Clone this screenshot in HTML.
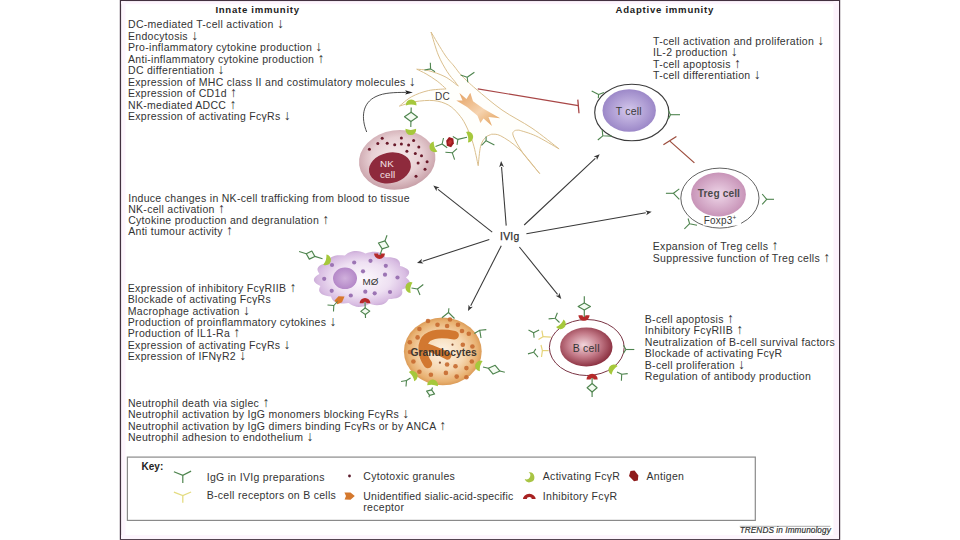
<!DOCTYPE html><html><head><meta charset="utf-8"><style>html,body{margin:0;padding:0;background:#fff;width:960px;height:540px;overflow:hidden}svg{display:block;font-family:"Liberation Sans",sans-serif}</style></head><body>
<svg width="960" height="540" viewBox="0 0 960 540">
<defs><radialGradient id="gT" cx="50%" cy="50%" r="50%"><stop offset="0" stop-color="#d4c8ec"/><stop offset="1" stop-color="#9c88c8"/></radialGradient><radialGradient id="gTr" cx="50%" cy="50%" r="50%"><stop offset="0" stop-color="#eed6e8"/><stop offset="1" stop-color="#c894b8"/></radialGradient><radialGradient id="gNK" cx="50%" cy="45%" r="55%"><stop offset="0" stop-color="#f6ecec"/><stop offset="0.6" stop-color="#e8d0d4"/><stop offset="1" stop-color="#c8a0a8"/></radialGradient><radialGradient id="gB" cx="45%" cy="45%" r="55%"><stop offset="0" stop-color="#f2d6dc"/><stop offset="0.55" stop-color="#c47c8a"/><stop offset="1" stop-color="#8e3444"/></radialGradient><radialGradient id="gG" cx="50%" cy="50%" r="50%"><stop offset="0" stop-color="#fdf3e6"/><stop offset="0.55" stop-color="#f6d8b2"/><stop offset="0.9" stop-color="#e8b070"/><stop offset="1" stop-color="#dc9c58"/></radialGradient><radialGradient id="gM" cx="50%" cy="50%" r="50%"><stop offset="0" stop-color="#fdfafd"/><stop offset="0.6" stop-color="#eee0f2"/><stop offset="0.92" stop-color="#d8bce2"/><stop offset="1" stop-color="#ccaed8"/></radialGradient><radialGradient id="gMn" cx="50%" cy="50%" r="50%"><stop offset="0" stop-color="#d0b0dc"/><stop offset="1" stop-color="#b488c8"/></radialGradient><linearGradient id="gDCn" x1="0" y1="0" x2="1" y2="1"><stop offset="0" stop-color="#e4a060"/><stop offset="0.55" stop-color="#f6d4b0"/><stop offset="1" stop-color="#e09a50"/></linearGradient><filter id="blur06" x="-20%" y="-20%" width="140%" height="140%"><feGaussianBlur stdDeviation="0.7"/></filter></defs>
<rect x="120.5" y="0.6" width="719" height="538.6" fill="#fff" stroke="#42303f" stroke-width="1.4"/>
<rect x="833.5" y="1" width="5.5" height="538" fill="#fcf2fc"/>
<rect x="121.5" y="1" width="4" height="538" fill="#fdf5fd"/>
<rect x="121" y="1.2" width="718" height="3" fill="#fdf4fd"/>
<rect x="121" y="535" width="718" height="4" fill="#fdf5fd"/>
<path d="M431.00,32.00 C433.33,35.83 441.17,49.33 445.00,55.00 C448.83,60.67 451.17,62.50 454.00,66.00 C456.83,69.50 458.33,72.17 462.00,76.00 C465.67,79.83 469.33,83.33 476.00,89.00 C482.67,94.67 492.67,103.47 502.00,110.00 C511.33,116.53 522.48,121.72 532.00,128.20 C541.52,134.68 554.58,145.45 559.10,148.90 C555.22,146.73 542.48,139.03 535.80,135.90 C529.12,132.77 521.80,131.07 519.00,130.10 C518.23,130.23 515.35,129.92 514.40,130.90 C513.45,131.88 511.90,132.35 513.30,136.00 C514.70,139.65 518.40,146.53 522.80,152.80 C527.20,159.07 536.88,170.13 539.70,173.60 C536.25,169.50 525.48,155.28 519.00,149.00 C512.52,142.72 505.35,138.37 500.80,135.90 C496.25,133.43 493.22,134.48 491.70,134.20 C490.67,134.75 487.35,135.48 485.50,137.50 C483.65,139.52 481.82,141.60 480.60,146.30 C479.38,151.00 478.60,162.47 478.20,165.70 C477.35,162.00 475.18,150.28 473.10,143.50 C471.02,136.72 468.17,129.93 465.70,125.00 C463.23,120.07 461.20,117.23 458.30,113.90 C455.40,110.57 452.37,107.22 448.30,105.00 C444.23,102.78 439.45,101.15 433.90,100.60 C428.35,100.05 420.75,100.78 415.00,101.70 C409.25,102.62 402.00,105.37 399.40,106.10 C401.45,104.53 406.88,99.28 411.70,96.70 C416.52,94.12 422.57,91.90 428.30,90.60 C434.03,89.30 443.13,89.18 446.10,88.90 C444.62,87.60 440.53,83.60 437.20,81.10 C433.87,78.60 429.52,75.88 426.10,73.90 C422.68,71.92 418.27,69.98 416.70,69.20 C418.63,69.43 423.58,69.35 428.30,70.60 C433.02,71.85 440.00,74.12 445.00,76.70 C450.00,79.28 456.08,84.53 458.30,86.10 C457.75,85.37 456.85,84.10 455.00,81.70 C453.15,79.30 449.98,76.15 447.20,71.70 C444.42,67.25 441.00,61.62 438.30,55.00 C435.60,48.38 432.22,35.83 431.00,32.00 Z" fill="#fffffc" stroke="#d8bc88" stroke-width="0.95" stroke-linejoin="round"/>
<path d="M456.3,100.4 L462.5,100.6 L459.4,93 L466.5,99 L470.3,92.7 L473,101.2 L484,109 L500.2,118.3 L488.5,117 L492,126.1 L483.5,118.5 L480.4,123 L477.5,115.8 L467,107 Z" fill="url(#gDCn)" filter="url(#blur06)"/>
<text x="435" y="99.6" font-size="10" letter-spacing="0.2" fill="#3a3a3a" font-weight="normal" font-style="normal" >DC</text>
<polyline points="424.40,70.00 430.60,68.90 435.00,71.70" fill="none" stroke="#4e844e" stroke-width="1.1" stroke-linejoin="round"/>
<line x1="430.6" y1="68.9" x2="430.3" y2="62.8" stroke="#4e844e" stroke-width="1.1"/>
<polyline points="460.60,75.00 467.20,77.20 474.40,72.20" fill="none" stroke="#4e844e" stroke-width="1.1" stroke-linejoin="round"/>
<line x1="467.2" y1="77.2" x2="467.8" y2="82.2" stroke="#4e844e" stroke-width="1.1"/>
<polyline points="481.50,145.40 486.10,140.70 494.40,144.90" fill="none" stroke="#4e844e" stroke-width="1.1" stroke-linejoin="round"/>
<line x1="486.1" y1="140.7" x2="486.1" y2="136.5" stroke="#4e844e" stroke-width="1.1"/>
<line x1="477.8" y1="88.9" x2="578.3" y2="105.6" stroke="#a84646" stroke-width="1.15"/>
<line x1="577.8" y1="99.6" x2="579" y2="113.2" stroke="#a84646" stroke-width="1.3"/>
<ellipse cx="631.8" cy="112.5" rx="37.1" ry="28.3" fill="#fff" stroke="#3c3c3c" stroke-width="1.15"/>
<ellipse cx="629.2" cy="110.5" rx="26.7" ry="21.25" fill="url(#gT)"/>
<text x="615.8" y="114.7" font-size="10.5" letter-spacing="0.2" fill="#3a3a3a" font-weight="normal" font-style="normal" >T cell</text>
<polyline points="603.90,92.50 598.60,94.40 598.30,98.30" fill="none" stroke="#4e844e" stroke-width="1.1" stroke-linejoin="round"/>
<line x1="598.6" y1="94.4" x2="591.7" y2="91.1" stroke="#4e844e" stroke-width="1.1"/>
<polyline points="602.20,130.00 602.80,135.80 611.70,136.10" fill="none" stroke="#4e844e" stroke-width="1.1" stroke-linejoin="round"/>
<line x1="602.8" y1="135.8" x2="597.8" y2="140" stroke="#4e844e" stroke-width="1.1"/>
<polyline points="668.30,110.50 670.50,114.70 668.30,119.00" fill="none" stroke="#4e844e" stroke-width="1.1" stroke-linejoin="round"/>
<line x1="670.5" y1="114.7" x2="680" y2="114.7" stroke="#4e844e" stroke-width="1.1"/>
<line x1="669.9" y1="141.1" x2="694.4" y2="162.9" stroke="#9c4c3c" stroke-width="1.2"/>
<line x1="663.4" y1="144.8" x2="676.4" y2="136.5" stroke="#9c4c3c" stroke-width="1.3"/>
<ellipse cx="719.9" cy="198.1" rx="39.1" ry="30" fill="#fff" stroke="#505050" stroke-width="0.9"/>
<ellipse cx="718.5" cy="194.5" rx="27.4" ry="21.9" fill="url(#gTr)"/>
<rect x="703" y="217" width="38" height="8.5" fill="#fff"/>
<text x="697.8" y="197" font-size="10.2" letter-spacing="0.1" fill="#4a4a4a" font-weight="bold" font-style="normal" >Treg cell</text>
<text x="703.7" y="223.7" font-size="10" letter-spacing="0.2" fill="#3a3a3a" font-weight="normal" font-style="normal" >Foxp3<tspan dy="-4" font-size="6.5">+</tspan></text>
<polyline points="679.30,188.90 673.50,193.30 679.30,199.30" fill="none" stroke="#4e844e" stroke-width="1.1" stroke-linejoin="round"/>
<line x1="673.5" y1="193.3" x2="665.9" y2="193.3" stroke="#4e844e" stroke-width="1.1"/>
<polyline points="762.20,194.00 766.70,199.30 762.20,204.40" fill="none" stroke="#4e844e" stroke-width="1.1" stroke-linejoin="round"/>
<line x1="766.7" y1="199.3" x2="774" y2="199.3" stroke="#4e844e" stroke-width="1.1"/>
<polyline points="688.10,218.50 689.60,223.70 697.00,225.20" fill="none" stroke="#4e844e" stroke-width="1.1" stroke-linejoin="round"/>
<line x1="689.6" y1="223.7" x2="684.4" y2="228.9" stroke="#4e844e" stroke-width="1.1"/>
<g transform="rotate(-8 397.2 159.9)"><ellipse cx="397.2" cy="159.9" rx="38.4" ry="29.6" fill="url(#gNK)"/></g>
<g transform="rotate(-12 389.9 167.9)"><ellipse cx="389.9" cy="167.9" rx="21.2" ry="15.3" fill="#8e2a3c"/></g>
<circle cx="382.2" cy="138.3" r="1.5" fill="#6a1a2a"/>
<circle cx="401.4" cy="138.1" r="1.5" fill="#6a1a2a"/>
<circle cx="413.6" cy="140.6" r="1.5" fill="#6a1a2a"/>
<circle cx="377.8" cy="143.6" r="1.5" fill="#6a1a2a"/>
<circle cx="387.2" cy="143.3" r="1.5" fill="#6a1a2a"/>
<circle cx="394.7" cy="144.7" r="1.5" fill="#6a1a2a"/>
<circle cx="401.4" cy="143.9" r="1.5" fill="#6a1a2a"/>
<circle cx="408.6" cy="145" r="1.5" fill="#6a1a2a"/>
<circle cx="418.8" cy="147.1" r="1.5" fill="#6a1a2a"/>
<circle cx="369.4" cy="149.2" r="1.5" fill="#6a1a2a"/>
<circle cx="406.9" cy="151.25" r="1.5" fill="#6a1a2a"/>
<circle cx="415.3" cy="153.6" r="1.5" fill="#6a1a2a"/>
<circle cx="421.5" cy="155.8" r="1.5" fill="#6a1a2a"/>
<circle cx="418.1" cy="163.1" r="1.5" fill="#6a1a2a"/>
<circle cx="427.1" cy="161.7" r="1.5" fill="#6a1a2a"/>
<circle cx="425" cy="169.3" r="1.5" fill="#6a1a2a"/>
<circle cx="416" cy="176.25" r="1.5" fill="#6a1a2a"/>
<text x="379.9" y="166.5" font-size="9.8" letter-spacing="0.2" fill="#f6e4e8" font-weight="normal" font-style="normal" >NK</text>
<text x="379.9" y="178.3" font-size="9.8" letter-spacing="0.2" fill="#f6e4e8" font-weight="normal" font-style="normal" >cell</text>
<path d="M366.7,132 C361,118 362,103 376,96.5 C384,92.6 395,92.4 406,92.4" fill="none" stroke="#3a3a3a" stroke-width="0.9"/>
<polygon points="412.8,92.4 405.2,90.2 406.5,92.4 405.2,94.6" fill="#222"/>
<g transform="translate(411.20,104.80) rotate(90)"><path d="M0.8,-5.34 A5.4,5.4 0 1 0 0.8,5.34 Q-1.4,0 0.8,-5.34 Z" fill="#a6c83c"/></g>
<g transform="translate(410.80,129.60) rotate(-90)"><path d="M0.8,-5.34 A5.4,5.4 0 1 0 0.8,5.34 Q-1.4,0 0.8,-5.34 Z" fill="#a6c83c"/></g>
<polyline points="411.20,107.50 411.10,112.30" fill="none" stroke="#4e844e" stroke-width="1.15"/>
<polygon points="411.10,112.30 404.51,116.77 410.91,121.50 417.51,117.03" fill="#f4fbf2" stroke="#4e844e" stroke-width="1.15" stroke-linejoin="round"/>
<polyline points="410.91,121.50 410.80,127.00" fill="none" stroke="#4e844e" stroke-width="1.15"/>
<g transform="translate(434.80,146.80) rotate(-20)"><path d="M0.8,-5.34 A5.4,5.4 0 1 0 0.8,5.34 Q-1.4,0 0.8,-5.34 Z" fill="#a6c83c"/></g>
<g transform="translate(467.80,137.00) rotate(170)"><path d="M0.8,-5.34 A5.4,5.4 0 1 0 0.8,5.34 Q-1.4,0 0.8,-5.34 Z" fill="#a6c83c"/></g>
<polyline points="443.50,138.00 442.10,144.00 447.20,147.70" fill="none" stroke="#4e844e" stroke-width="1.1" stroke-linejoin="round"/>
<line x1="442.1" y1="144" x2="435.5" y2="146.6" stroke="#4e844e" stroke-width="1.1"/>
<polyline points="452.80,136.60 457.90,139.40 457.00,144.90" fill="none" stroke="#4e844e" stroke-width="1.1" stroke-linejoin="round"/>
<line x1="457.9" y1="139.4" x2="467" y2="137.2" stroke="#4e844e" stroke-width="1.1"/>
<polyline points="445.40,152.30 452.30,152.80 457.00,148.60" fill="none" stroke="#4e844e" stroke-width="1.1" stroke-linejoin="round"/>
<line x1="452.3" y1="152.8" x2="454.6" y2="159.7" stroke="#4e844e" stroke-width="1.1"/>
<g transform="rotate(25 450 142.1)"><polygon points="447,138 451.5,137.5 454,141.5 453.2,146.3 448.7,146.8 446,142.5" fill="#9c1a20"/><ellipse cx="450" cy="142.2" rx="1.8" ry="2.3" fill="#c03030"/></g>
<text x="500" y="240" font-size="10.3" letter-spacing="0.3" fill="#2e2e2e" font-weight="normal" font-style="normal" stroke="#2e2e2e" stroke-width="0.25">IVIg</text>
<line x1="506.2" y1="225.6" x2="501.57" y2="167.08" stroke="#383838" stroke-width="1.05"/>
<polygon points="501.10,161.10 503.97,166.89 501.45,165.59 499.18,167.27" fill="#383838"/>
<line x1="492.2" y1="232.2" x2="438.01" y2="189.32" stroke="#383838" stroke-width="1.05"/>
<polygon points="433.30,185.60 439.49,187.44 436.83,188.39 436.52,191.20" fill="#383838"/>
<line x1="524.2" y1="225" x2="595.32" y2="158.30" stroke="#383838" stroke-width="1.05"/>
<polygon points="599.70,154.20 596.97,160.05 596.42,157.28 593.68,156.55" fill="#383838"/>
<line x1="526.4" y1="233.8" x2="645.79" y2="212.84" stroke="#383838" stroke-width="1.05"/>
<polygon points="651.70,211.80 646.21,215.20 647.27,212.58 645.38,210.47" fill="#383838"/>
<line x1="489.3" y1="239.6" x2="422.71" y2="261.15" stroke="#383838" stroke-width="1.05"/>
<polygon points="417.00,263.00 421.97,258.87 421.28,261.61 423.45,263.44" fill="#383838"/>
<line x1="501.3" y1="245.7" x2="470.72" y2="305.75" stroke="#383838" stroke-width="1.05"/>
<polygon points="468.00,311.10 468.58,304.66 470.04,307.09 472.86,306.84" fill="#383838"/>
<line x1="519.4" y1="247" x2="557.54" y2="294.33" stroke="#383838" stroke-width="1.05"/>
<polygon points="561.30,299.00 555.67,295.83 558.48,295.50 559.40,292.82" fill="#383838"/>
<path d="M407.38,278.80 L408.69,280.10 L409.61,281.47 L410.03,282.85 L409.90,284.22 L409.18,285.52 L407.93,286.72 L406.22,287.78 L404.18,288.71 L401.95,289.51 L402.22,290.98 L402.33,292.49 L402.06,293.95 L401.33,295.29 L400.11,296.46 L398.44,297.42 L396.37,298.14 L394.01,298.62 L391.46,298.89 L388.84,299.00 L387.91,300.37 L386.81,301.74 L385.40,302.95 L383.68,303.94 L381.67,304.65 L379.42,305.05 L377.01,305.13 L374.53,304.92 L372.06,304.47 L369.66,303.86 L367.73,304.82 L365.66,305.73 L363.45,306.43 L361.13,306.84 L358.79,306.93 L356.48,306.67 L354.28,306.09 L352.25,305.23 L350.42,304.17 L348.79,302.98 L346.31,303.31 L343.75,303.56 L341.23,303.58 L338.86,303.31 L336.71,302.75 L334.87,301.90 L333.39,300.80 L332.28,299.49 L331.51,298.05 L331.01,296.56 L328.55,296.18 L326.09,295.71 L323.85,295.05 L321.95,294.17 L320.49,293.10 L319.55,291.85 L319.12,290.47 L319.18,289.01 L319.65,287.53 L320.41,286.07 L318.53,285.07 L316.72,283.99 L315.27,282.79 L314.28,281.51 L313.86,280.16 L314.02,278.80 L314.74,277.46 L315.96,276.19 L317.56,275.00 L319.40,273.92 L318.53,272.53 L317.79,271.08 L317.46,269.63 L317.62,268.22 L318.32,266.92 L319.55,265.75 L321.26,264.76 L323.36,263.97 L325.72,263.35 L328.21,262.88 L328.55,261.42 L329.06,259.94 L329.93,258.56 L331.19,257.36 L332.85,256.39 L334.87,255.70 L337.18,255.28 L339.67,255.14 L342.26,255.23 L344.84,255.50 L346.31,254.29 L347.95,253.12 L349.81,252.13 L351.89,251.41 L354.13,251.00 L356.48,250.93 L358.85,251.19 L361.18,251.74 L363.39,252.52 L365.47,253.45 L367.73,252.78 L370.12,252.18 L372.56,251.81 L374.97,251.74 L377.29,251.98 L379.42,252.55 L381.32,253.42 L382.93,254.53 L384.27,255.82 L385.37,257.21 L387.91,257.23 L390.50,257.34 L392.95,257.68 L395.15,258.26 L397.01,259.10 L398.44,260.18 L399.42,261.46 L399.96,262.89 L400.12,264.39 L399.98,265.91 L402.22,266.62 L404.42,267.42 L406.32,268.38 L407.81,269.49 L408.77,270.74 L409.18,272.08 L409.03,273.48 L408.37,274.89 L407.30,276.26 L405.97,277.57 Z" fill="url(#gM)"/>
<ellipse cx="345" cy="278.3" rx="12" ry="10.8" fill="url(#gMn)"/>
<circle cx="332" cy="265" r="2.1" fill="#9c74b4"/>
<circle cx="354.2" cy="262.5" r="2.1" fill="#9c74b4"/>
<circle cx="370.5" cy="260.8" r="2.1" fill="#9c74b4"/>
<circle cx="385.8" cy="265.8" r="2.1" fill="#9c74b4"/>
<circle cx="363" cy="271.3" r="2.1" fill="#9c74b4"/>
<circle cx="385" cy="274.7" r="2.1" fill="#9c74b4"/>
<circle cx="397.5" cy="277.5" r="2.1" fill="#9c74b4"/>
<circle cx="324.2" cy="278.8" r="2.1" fill="#9c74b4"/>
<circle cx="331.7" cy="290.8" r="2.1" fill="#9c74b4"/>
<circle cx="350.8" cy="295.5" r="2.1" fill="#9c74b4"/>
<circle cx="365.3" cy="291.7" r="2.1" fill="#9c74b4"/>
<circle cx="374.7" cy="293.3" r="2.1" fill="#9c74b4"/>
<circle cx="390" cy="292" r="2.1" fill="#9c74b4"/>
<text x="362.5" y="284.7" font-size="9.8" letter-spacing="0.2" fill="#333" font-weight="normal" font-style="normal" >MØ</text>
<g transform="translate(325.60,259.80) rotate(197)"><path d="M0.8,-5.34 A5.4,5.4 0 1 0 0.8,5.34 Q-1.4,0 0.8,-5.34 Z" fill="#a6c83c"/></g>
<polyline points="322.50,258.80 314.86,256.42" fill="none" stroke="#4e844e" stroke-width="1.15"/>
<polygon points="314.86,256.42 311.83,251.02 306.26,253.73 309.30,259.13" fill="#f4fbf2" stroke="#4e844e" stroke-width="1.15" stroke-linejoin="round"/>
<polyline points="306.26,253.73 299.10,251.50" fill="none" stroke="#4e844e" stroke-width="1.15"/>
<g transform="translate(379.50,254.50) rotate(-180)"><path d="M-5.4,-1 A5.4,5.4 0 0 0 5.4,-1 L1.5,-1 A1.5,1.5 0 0 1 -1.5,-1 Z" transform="scale(1,-1)" fill="#b52a2a"/></g>
<polyline points="380.00,255.00 382.17,248.87" fill="none" stroke="#4e844e" stroke-width="1.15"/>
<polygon points="382.17,248.87 388.77,246.70 385.00,240.86 378.40,243.03" fill="#f4fbf2" stroke="#4e844e" stroke-width="1.15" stroke-linejoin="round"/>
<polyline points="385.00,240.86 387.00,235.20" fill="none" stroke="#4e844e" stroke-width="1.15"/>
<g transform="translate(410.80,287.50) rotate(10)"><path d="M0.8,-5.34 A5.4,5.4 0 1 0 0.8,5.34 Q-1.4,0 0.8,-5.34 Z" fill="#a6c83c"/></g>
<polyline points="423.30,284.50 417.50,289.00 420.00,295.00" fill="none" stroke="#4e844e" stroke-width="1.1" stroke-linejoin="round"/>
<line x1="417.5" y1="289" x2="411.5" y2="288" stroke="#4e844e" stroke-width="1.1"/>
<polygon points="334.5,300.5 338.5,296.2 344.5,296.5 342,302.3 337.3,304.2" fill="#d8782c"/>
<polyline points="327.50,305.00 333.80,305.50 333.50,311.50" fill="none" stroke="#4e844e" stroke-width="1.1" stroke-linejoin="round"/>
<line x1="333.8" y1="305.5" x2="337.5" y2="301.5" stroke="#4e844e" stroke-width="1.1"/>
<g transform="translate(365.00,302.30) rotate(0)"><path d="M-5.4,-1 A5.4,5.4 0 0 0 5.4,-1 L1.5,-1 A1.5,1.5 0 0 1 -1.5,-1 Z" transform="scale(1,-1)" fill="#b52a2a"/></g>
<polyline points="365.00,302.00 365.19,308.00" fill="none" stroke="#4e844e" stroke-width="1.15"/>
<polygon points="365.19,308.00 360.79,311.39 365.39,314.50 369.79,311.11" fill="#f4fbf2" stroke="#4e844e" stroke-width="1.15" stroke-linejoin="round"/>
<polyline points="365.39,314.50 365.50,318.00" fill="none" stroke="#4e844e" stroke-width="1.15"/>
<ellipse cx="442.8" cy="351.4" rx="38.9" ry="33.8" fill="url(#gG)"/>
<path d="M454.5,335.2 C446,333.5 434,333 427.5,337.5 C421,342.5 421.5,355 427.8,363.8" fill="none" stroke="#d27830" stroke-width="8.8" stroke-linecap="round" stroke-linejoin="round"/>
<path d="M428,347.5 C434.5,349.5 441,352.5 447.5,355.8" fill="none" stroke="#d27830" stroke-width="7.5" stroke-linecap="round"/>
<circle cx="437.5" cy="324.8" r="2.3" fill="#c66a30" opacity="0.9"/>
<circle cx="447.1" cy="326" r="2.3" fill="#c66a30" opacity="0.9"/>
<circle cx="458" cy="324.8" r="2.3" fill="#c66a30" opacity="0.9"/>
<circle cx="419.4" cy="329" r="2.3" fill="#c66a30" opacity="0.9"/>
<circle cx="468.8" cy="333.8" r="2.3" fill="#c66a30" opacity="0.9"/>
<circle cx="417.6" cy="337.4" r="2.3" fill="#c66a30" opacity="0.9"/>
<circle cx="409.8" cy="342.3" r="2.3" fill="#c66a30" opacity="0.9"/>
<circle cx="462.8" cy="344.7" r="2.3" fill="#c66a30" opacity="0.9"/>
<circle cx="472.4" cy="346.5" r="2.3" fill="#c66a30" opacity="0.9"/>
<circle cx="413.4" cy="361.5" r="2.3" fill="#c66a30" opacity="0.9"/>
<circle cx="447.1" cy="364.5" r="2.3" fill="#c66a30" opacity="0.9"/>
<circle cx="455.5" cy="366.3" r="2.3" fill="#c66a30" opacity="0.9"/>
<circle cx="466.4" cy="368.1" r="2.3" fill="#c66a30" opacity="0.9"/>
<circle cx="471.8" cy="361.5" r="2.3" fill="#c66a30" opacity="0.9"/>
<circle cx="419.4" cy="371.7" r="2.3" fill="#c66a30" opacity="0.9"/>
<circle cx="430.9" cy="374.8" r="2.3" fill="#c66a30" opacity="0.9"/>
<circle cx="445.9" cy="372.9" r="2.3" fill="#c66a30" opacity="0.9"/>
<circle cx="456.7" cy="376.6" r="2.3" fill="#c66a30" opacity="0.9"/>
<circle cx="466.4" cy="377.2" r="2.3" fill="#c66a30" opacity="0.9"/>
<circle cx="428" cy="321" r="2.3" fill="#c66a30" opacity="0.9"/>
<circle cx="450" cy="319.5" r="2.3" fill="#c66a30" opacity="0.9"/>
<circle cx="462" cy="331" r="2.3" fill="#c66a30" opacity="0.9"/>
<circle cx="410" cy="352" r="2.3" fill="#c66a30" opacity="0.9"/>
<circle cx="452.5" cy="344.7" r="1.1" fill="#8a5030"/>
<circle cx="439.9" cy="362.7" r="1.1" fill="#8a5030"/>
<text x="410.4" y="355.8" font-size="10.3" letter-spacing="0.05" fill="#40362e" font-weight="bold" font-style="normal" >Granulocytes</text>
<polyline points="441.90,317.80 448.50,312.50 454.50,318.50" fill="none" stroke="#4e844e" stroke-width="1.1" stroke-linejoin="round"/>
<line x1="448.5" y1="312.5" x2="448.9" y2="308.3" stroke="#4e844e" stroke-width="1.1"/>
<polyline points="474.30,333.50 479.80,330.30 481.00,338.00" fill="none" stroke="#4e844e" stroke-width="1.1" stroke-linejoin="round"/>
<line x1="479.8" y1="330.3" x2="486.3" y2="329.6" stroke="#4e844e" stroke-width="1.1"/>
<g transform="translate(480.50,366.00) rotate(15)"><path d="M0.8,-5.34 A5.4,5.4 0 1 0 0.8,5.34 Q-1.4,0 0.8,-5.34 Z" fill="#a6c83c"/></g>
<polyline points="483.00,367.00 488.35,368.28" fill="none" stroke="#4e844e" stroke-width="1.15"/>
<polygon points="488.35,368.28 493.10,374.04 499.94,371.04 495.19,365.28" fill="#f4fbf2" stroke="#4e844e" stroke-width="1.15" stroke-linejoin="round"/>
<polyline points="499.94,371.04 504.80,372.20" fill="none" stroke="#4e844e" stroke-width="1.15"/>
<g transform="translate(412.20,376.20) rotate(150)"><path d="M0.8,-5.34 A5.4,5.4 0 1 0 0.8,5.34 Q-1.4,0 0.8,-5.34 Z" fill="#a6c83c"/></g>
<polyline points="401.10,381.50 406.50,380.50 406.00,386.50" fill="none" stroke="#4e844e" stroke-width="1.1" stroke-linejoin="round"/>
<line x1="406.5" y1="380.5" x2="410.5" y2="378" stroke="#4e844e" stroke-width="1.1"/>
<g transform="translate(432.60,385.00) rotate(95)"><path d="M0.8,-5.34 A5.4,5.4 0 1 0 0.8,5.34 Q-1.4,0 0.8,-5.34 Z" fill="#a6c83c"/></g>
<polyline points="432.50,387.50 431.63,389.84" fill="none" stroke="#4e844e" stroke-width="1.15"/>
<polygon points="431.63,389.84 426.63,391.11 429.60,395.32 434.60,394.06" fill="#f4fbf2" stroke="#4e844e" stroke-width="1.15" stroke-linejoin="round"/>
<polyline points="429.60,395.32 428.90,397.20" fill="none" stroke="#4e844e" stroke-width="1.15"/>
<ellipse cx="586.8" cy="347.5" rx="37.4" ry="28" fill="#fff" stroke="#7a3444" stroke-width="1"/>
<ellipse cx="586.3" cy="347" rx="26.2" ry="19.4" fill="url(#gB)"/>
<text x="572.8" y="351.7" font-size="10.5" letter-spacing="0.2" fill="#333" font-weight="normal" font-style="normal" >B cell</text>
<g transform="translate(584.00,316.20) rotate(-180)"><path d="M-5.6,-1 A5.6,5.6 0 0 0 5.6,-1 L1.5,-1 A1.5,1.5 0 0 1 -1.5,-1 Z" transform="scale(1,-1)" fill="#b52a2a"/></g>
<polyline points="584.30,317.00 584.30,310.00" fill="none" stroke="#4e844e" stroke-width="1.15"/>
<polygon points="584.30,310.00 590.45,306.50 584.30,303.00 578.15,306.50" fill="#f4fbf2" stroke="#4e844e" stroke-width="1.15" stroke-linejoin="round"/>
<polyline points="584.30,303.00 584.30,296.20" fill="none" stroke="#4e844e" stroke-width="1.15"/>
<g transform="translate(560.40,323.80) rotate(225)"><path d="M0.8,-5.34 A5.4,5.4 0 1 0 0.8,5.34 Q-1.4,0 0.8,-5.34 Z" fill="#a6c83c"/></g>
<polyline points="548.60,318.90 555.20,318.30 557.40,312.80" fill="none" stroke="#4e844e" stroke-width="1.1" stroke-linejoin="round"/>
<line x1="555.2" y1="318.3" x2="559.5" y2="322.5" stroke="#4e844e" stroke-width="1.1"/>
<polyline points="541.90,330.60 543.00,336.70 538.50,339.50" fill="none" stroke="#e6d47a" stroke-width="1.2" stroke-linejoin="round"/>
<line x1="543" y1="336.7" x2="550.8" y2="337.2" stroke="#e6d47a" stroke-width="1.2"/>
<polyline points="541.00,345.00 542.40,350.60 541.50,357.00" fill="none" stroke="#e6d47a" stroke-width="1.2" stroke-linejoin="round"/>
<line x1="542.4" y1="350.6" x2="548.6" y2="350.6" stroke="#e6d47a" stroke-width="1.2"/>
<polyline points="528.50,330.00 533.60,332.80 539.10,330.00" fill="none" stroke="#4e844e" stroke-width="1.1" stroke-linejoin="round"/>
<line x1="533.6" y1="332.8" x2="534.1" y2="337.8" stroke="#4e844e" stroke-width="1.1"/>
<polyline points="535.80,348.90 533.60,352.20 538.00,357.20" fill="none" stroke="#4e844e" stroke-width="1.1" stroke-linejoin="round"/>
<line x1="533.6" y1="352.2" x2="528" y2="353.9" stroke="#4e844e" stroke-width="1.1"/>
<polyline points="623.50,345.20 625.90,349.50 623.50,353.10" fill="none" stroke="#4e844e" stroke-width="1.1" stroke-linejoin="round"/>
<line x1="625.9" y1="349.5" x2="634.3" y2="349.5" stroke="#4e844e" stroke-width="1.1"/>
<g transform="translate(613.90,369.90) rotate(35)"><path d="M0.8,-5.34 A5.4,5.4 0 1 0 0.8,5.34 Q-1.4,0 0.8,-5.34 Z" fill="#a6c83c"/></g>
<polyline points="627.70,373.60 621.70,374.20 621.40,380.80" fill="none" stroke="#4e844e" stroke-width="1.1" stroke-linejoin="round"/>
<line x1="621.7" y1="374.2" x2="617" y2="372" stroke="#4e844e" stroke-width="1.1"/>
<g transform="translate(592.10,378.40) rotate(0)"><path d="M-5.6,-1 A5.6,5.6 0 0 0 5.6,-1 L1.5,-1 A1.5,1.5 0 0 1 -1.5,-1 Z" transform="scale(1,-1)" fill="#b52a2a"/></g>
<polyline points="592.10,378.00 592.10,383.50" fill="none" stroke="#4e844e" stroke-width="1.15"/>
<polygon points="592.10,383.50 587.10,387.75 592.10,392.00 597.10,387.75" fill="#f4fbf2" stroke="#4e844e" stroke-width="1.15" stroke-linejoin="round"/>
<polyline points="592.10,392.00 592.10,397.00" fill="none" stroke="#4e844e" stroke-width="1.15"/>
<text x="215.4" y="13.0" font-size="9.6" letter-spacing="0.72" fill="#222" font-weight="bold" font-style="normal" >Innate immunity</text>
<text x="615.6" y="13.1" font-size="9.6" letter-spacing="0.74" fill="#222" font-weight="bold" font-style="normal" >Adaptive immunity</text>
<text x="128" y="28.4" font-size="10.5" letter-spacing="0.3" fill="#333" font-weight="normal" font-style="normal" >DC-mediated T-cell activation <tspan font-size="14" letter-spacing="0">↓</tspan></text>
<text x="128" y="39.86" font-size="10.5" letter-spacing="0.3" fill="#333" font-weight="normal" font-style="normal" >Endocytosis <tspan font-size="14" letter-spacing="0">↓</tspan></text>
<text x="128" y="51.32" font-size="10.5" letter-spacing="0.3" fill="#333" font-weight="normal" font-style="normal" >Pro-inflammatory cytokine production <tspan font-size="14" letter-spacing="0">↓</tspan></text>
<text x="128" y="62.78" font-size="10.5" letter-spacing="0.3" fill="#333" font-weight="normal" font-style="normal" >Anti-inflammatory cytokine production <tspan font-size="14" letter-spacing="0">↑</tspan></text>
<text x="128" y="74.24" font-size="10.5" letter-spacing="0.3" fill="#333" font-weight="normal" font-style="normal" >DC differentiation <tspan font-size="14" letter-spacing="0">↓</tspan></text>
<text x="128" y="85.7" font-size="10.5" letter-spacing="0.3" fill="#333" font-weight="normal" font-style="normal" >Expression of MHC class II and costimulatory molecules <tspan font-size="14" letter-spacing="0">↓</tspan></text>
<text x="128" y="97.16" font-size="10.5" letter-spacing="0.3" fill="#333" font-weight="normal" font-style="normal" >Expression of CD1d <tspan font-size="14" letter-spacing="0">↑</tspan></text>
<text x="128" y="108.62" font-size="10.5" letter-spacing="0.3" fill="#333" font-weight="normal" font-style="normal" >NK-mediated ADCC <tspan font-size="14" letter-spacing="0">↑</tspan></text>
<text x="128" y="120.08" font-size="10.5" letter-spacing="0.3" fill="#333" font-weight="normal" font-style="normal" >Expression of activating FcγRs <tspan font-size="14" letter-spacing="0">↓</tspan></text>
<text x="653" y="44.9" font-size="10.5" letter-spacing="0.3" fill="#333" font-weight="normal" font-style="normal" >T-cell activation and proliferation <tspan font-size="14" letter-spacing="0">↓</tspan></text>
<text x="653" y="56.2" font-size="10.5" letter-spacing="0.3" fill="#333" font-weight="normal" font-style="normal" >IL-2 production <tspan font-size="14" letter-spacing="0">↓</tspan></text>
<text x="653" y="67.5" font-size="10.5" letter-spacing="0.3" fill="#333" font-weight="normal" font-style="normal" >T-cell apoptosis <tspan font-size="14" letter-spacing="0">↑</tspan></text>
<text x="653" y="78.8" font-size="10.5" letter-spacing="0.3" fill="#333" font-weight="normal" font-style="normal" >T-cell differentiation <tspan font-size="14" letter-spacing="0">↓</tspan></text>
<text x="128.2" y="201.9" font-size="10.5" letter-spacing="0.3" fill="#333" font-weight="normal" font-style="normal" >Induce changes in NK-cell trafficking from blood to tissue</text>
<text x="128.2" y="213.0" font-size="10.5" letter-spacing="0.3" fill="#333" font-weight="normal" font-style="normal" >NK-cell activation <tspan font-size="14" letter-spacing="0">↑</tspan></text>
<text x="128.2" y="224.1" font-size="10.5" letter-spacing="0.3" fill="#333" font-weight="normal" font-style="normal" >Cytokine production and degranulation <tspan font-size="14" letter-spacing="0">↑</tspan></text>
<text x="128.2" y="235.2" font-size="10.5" letter-spacing="0.3" fill="#333" font-weight="normal" font-style="normal" >Anti tumour activity <tspan font-size="14" letter-spacing="0">↑</tspan></text>
<text x="127.8" y="291.9" font-size="10.5" letter-spacing="0.3" fill="#333" font-weight="normal" font-style="normal" >Expression of inhibitory FcγRIIB <tspan font-size="14" letter-spacing="0">↑</tspan></text>
<text x="127.8" y="303.26" font-size="10.5" letter-spacing="0.3" fill="#333" font-weight="normal" font-style="normal" >Blockade of activating FcγRs</text>
<text x="127.8" y="314.62" font-size="10.5" letter-spacing="0.3" fill="#333" font-weight="normal" font-style="normal" >Macrophage activation <tspan font-size="14" letter-spacing="0">↓</tspan></text>
<text x="127.8" y="325.98" font-size="10.5" letter-spacing="0.3" fill="#333" font-weight="normal" font-style="normal" >Production of proinflammatory cytokines <tspan font-size="14" letter-spacing="0">↓</tspan></text>
<text x="127.8" y="337.34" font-size="10.5" letter-spacing="0.3" fill="#333" font-weight="normal" font-style="normal" >Production of IL1-Ra <tspan font-size="14" letter-spacing="0">↑</tspan></text>
<text x="127.8" y="348.7" font-size="10.5" letter-spacing="0.3" fill="#333" font-weight="normal" font-style="normal" >Expression of activating FcγRs <tspan font-size="14" letter-spacing="0">↓</tspan></text>
<text x="127.8" y="360.06" font-size="10.5" letter-spacing="0.3" fill="#333" font-weight="normal" font-style="normal" >Expression of IFNγR2 <tspan font-size="14" letter-spacing="0">↓</tspan></text>
<text x="127.9" y="406.8" font-size="10.5" letter-spacing="0.3" fill="#333" font-weight="normal" font-style="normal" >Neutrophil death via siglec <tspan font-size="14" letter-spacing="0">↑</tspan></text>
<text x="127.9" y="418.17" font-size="10.5" letter-spacing="0.3" fill="#333" font-weight="normal" font-style="normal" >Neutrophil activation by IgG monomers blocking FcγRs <tspan font-size="14" letter-spacing="0">↓</tspan></text>
<text x="127.9" y="429.54" font-size="10.5" letter-spacing="0.3" fill="#333" font-weight="normal" font-style="normal" >Neutrophil activation by IgG dimers binding FcγRs or by ANCA <tspan font-size="14" letter-spacing="0">↑</tspan></text>
<text x="127.9" y="440.91" font-size="10.5" letter-spacing="0.3" fill="#333" font-weight="normal" font-style="normal" >Neutrophil adhesion to endothelium <tspan font-size="14" letter-spacing="0">↓</tspan></text>
<text x="652.8" y="250.2" font-size="10.5" letter-spacing="0.3" fill="#333" font-weight="normal" font-style="normal" >Expansion of Treg cells <tspan font-size="14" letter-spacing="0">↑</tspan></text>
<text x="652.8" y="262.2" font-size="10.5" letter-spacing="0.3" fill="#333" font-weight="normal" font-style="normal" >Suppressive function of Treg cells <tspan font-size="14" letter-spacing="0">↑</tspan></text>
<text x="644.8" y="323.1" font-size="10.5" letter-spacing="0.3" fill="#333" font-weight="normal" font-style="normal" >B-cell apoptosis <tspan font-size="14" letter-spacing="0">↑</tspan></text>
<text x="644.8" y="334.48" font-size="10.5" letter-spacing="0.3" fill="#333" font-weight="normal" font-style="normal" >Inhibitory FcγRIIB <tspan font-size="14" letter-spacing="0">↑</tspan></text>
<text x="644.8" y="345.86" font-size="10.5" letter-spacing="0.3" fill="#333" font-weight="normal" font-style="normal" >Neutralization of B-cell survival factors</text>
<text x="644.8" y="357.24" font-size="10.5" letter-spacing="0.3" fill="#333" font-weight="normal" font-style="normal" >Blockade of activating FcγR</text>
<text x="644.8" y="368.62" font-size="10.5" letter-spacing="0.3" fill="#333" font-weight="normal" font-style="normal" >B-cell proliferation <tspan font-size="14" letter-spacing="0">↓</tspan></text>
<text x="644.8" y="380.0" font-size="10.5" letter-spacing="0.3" fill="#333" font-weight="normal" font-style="normal" >Regulation of antibody production</text>
<rect x="127.4" y="457.1" width="627.9" height="63.3" fill="none" stroke="#8a8a8a" stroke-width="1.2"/>
<text x="141.4" y="469.8" font-size="10" letter-spacing="0.05" fill="#222" font-weight="bold" font-style="normal" >Key:</text>
<polyline points="173.9,471.7 182.8,475.3 191.1,471.1" fill="none" stroke="#4e844e" stroke-width="1.2"/><line x1="182.8" y1="475.3" x2="182.8" y2="483.1" stroke="#4e844e" stroke-width="1.2"/>
<polyline points="173.9,492.2 182.8,495.6 191.1,492" fill="none" stroke="#e4dc80" stroke-width="1.3"/><line x1="182.8" y1="495.6" x2="182.8" y2="502.8" stroke="#e4dc80" stroke-width="1.3"/>
<text x="206.7" y="480.6" font-size="10.5" letter-spacing="0.3" fill="#333" font-weight="normal" font-style="normal" >IgG in IVIg preparations</text>
<text x="206.7" y="499.4" font-size="10.5" letter-spacing="0.3" fill="#333" font-weight="normal" font-style="normal" >B-cell receptors on B cells</text>
<circle cx="349.5" cy="476" r="1.4" fill="#5a1a2a"/>
<polygon points="344.4,492.6 350.5,492.4 354.8,496 350.5,499.7 344.6,499.5 346,496" fill="#d4782e"/>
<text x="363.3" y="480.1" font-size="10.5" letter-spacing="0.3" fill="#333" font-weight="normal" font-style="normal" >Cytotoxic granules</text>
<text x="363.3" y="499.7" font-size="10.5" letter-spacing="0.22" fill="#333" font-weight="normal" font-style="normal" >Unidentified sialic-acid-specific</text>
<text x="363.3" y="511.0" font-size="10.5" letter-spacing="0.3" fill="#333" font-weight="normal" font-style="normal" >receptor</text>
<g transform="translate(529.40,477.30) rotate(210)"><path d="M3.15,-3.88 A5.0,5.0 0 1 0 3.15,3.88 A3.9,3.9 0 0 1 3.15,-3.88 Z" fill="#a8c444"/></g>
<g transform="translate(0,101.9) scale(1,0.82)">
<g transform="translate(529.30,483.40) rotate(0)"><path d="M-6.4,-1 A6.4,6.4 0 0 0 6.4,-1 L2.5,-1 A2.5,2.5 0 0 1 -2.5,-1 Z" transform="scale(1,-1)" fill="#a82222"/></g>
</g>
<polygon points="630.5,471 634.5,470.4 638.4,475.5 637.8,480.5 634,481.3 629,476" fill="#8e1c1c"/>
<text x="542.8" y="480.3" font-size="10.5" letter-spacing="0.3" fill="#333" font-weight="normal" font-style="normal" >Activating FcγR</text>
<text x="542.8" y="499.6" font-size="10.5" letter-spacing="0.3" fill="#333" font-weight="normal" font-style="normal" >Inhibitory FcγR</text>
<text x="646.5" y="480.3" font-size="10.5" letter-spacing="0.3" fill="#333" font-weight="normal" font-style="normal" >Antigen</text>
<line x1="739.7" y1="526.3" x2="830.3" y2="526.3" stroke="#999" stroke-width="0.8"/>
<text x="739.7" y="533.3" font-size="8.2" letter-spacing="0.1" fill="#333" font-weight="normal" font-style="italic" stroke="#333" stroke-width="0.2">TRENDS in Immunology</text>
</svg></body></html>
